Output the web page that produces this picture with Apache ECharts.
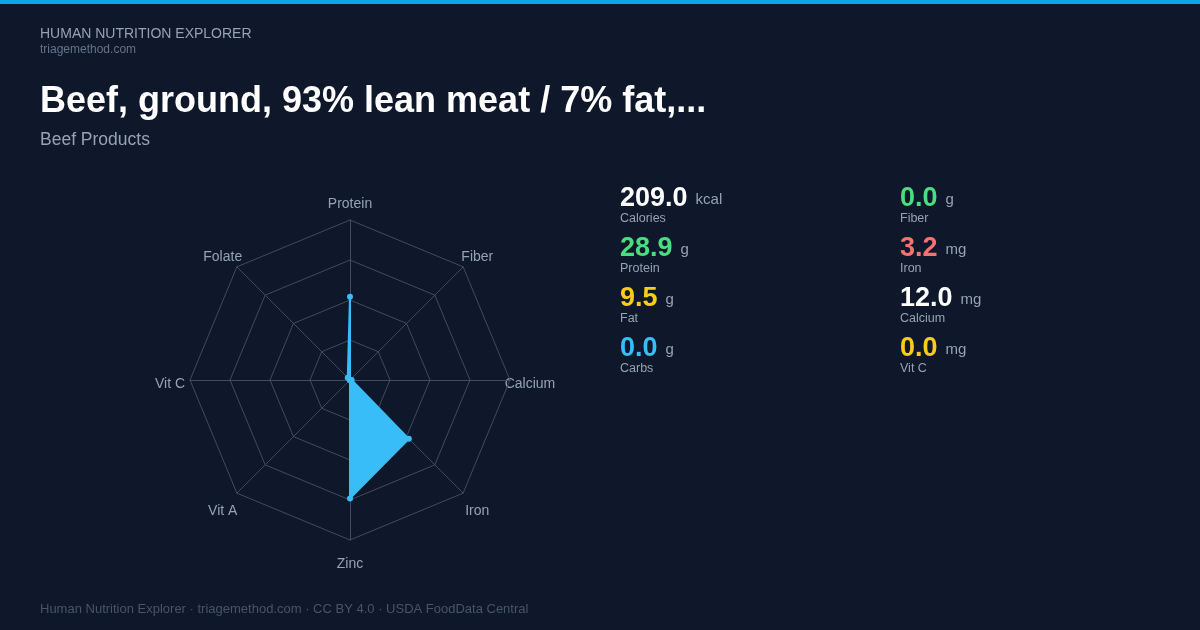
<!DOCTYPE html>
<html>
<head>
<meta charset="utf-8">
<script src="https://cdn.jsdelivr.net/npm/echarts@6/dist/echarts.min.js"></script>
<style>
  html, body { margin: 0; padding: 0; background: #0f172a; }
  #chart { width: 1200px; height: 630px; }
</style>
</head>
<body>
<div id="chart"></div>
<script>
// radar axes, clockwise from the top
const nutrients = ['Protein', 'Fiber', 'Calcium', 'Iron', 'Zinc', 'Vit A', 'Vit C', 'Folate']
// share of daily value, %
const dailyPct = [52, 0, 1, 52, 74, 0, 0, 2]
const axisMax = 100

// stat panel
const statNames = ['Calories', 'Protein', 'Fat', 'Carbs', 'Fiber', 'Iron', 'Calcium', 'Vit C']
const statValues = ['209.0', '28.9', '9.5', '0.0', '0.0', '3.2', '12.0', '0.0']
const statUnits = ['kcal', 'g', 'g', 'g', 'g', 'mg', 'mg', 'mg']

const statColors = ['#ffffff', '#4ade80', '#facc15', '#38bdf8', '#4ade80', '#f87171', '#ffffff', '#facc15']
const font = '"Liberation Sans", Arial, Helvetica, sans-serif'
const cx = 350, cy = 380, radius = 160

const ctx = document.createElement('canvas').getContext('2d')
const measure = (txt, f) => { ctx.font = f; return ctx.measureText(txt).width }

// ECharts lays radar indicators out counter-clockwise, so flip the order after the first
const order = [0].concat(nutrients.map((_, i) => i).slice(1).reverse())

const graphics = [
  { type: 'rect', shape: { x: 0, y: 0, width: 1200, height: 4 }, style: { fill: '#0ea5e9' } },
  { type: 'text', x: 40, y: 34, style: { text: 'HUMAN NUTRITION EXPLORER', font: '14px ' + font, fill: '#94a3b8', verticalAlign: 'middle' } },
  { type: 'text', x: 40, y: 49.5, style: { text: 'triagemethod.com', font: '12px ' + font, fill: '#64748b', verticalAlign: 'middle' } },
  { type: 'text', x: 40, y: 102, style: { text: 'Beef, ground, 93% lean meat / 7% fat,...', font: 'bold 36px ' + font, fill: '#ffffff', verticalAlign: 'middle' } },
  { type: 'text', x: 40, y: 140.5, style: { text: 'Beef Products', font: '17.5px ' + font, fill: '#94a3b8', verticalAlign: 'middle' } },
  { type: 'text', x: 40, y: 609, style: { text: 'Human Nutrition Explorer · triagemethod.com · CC BY 4.0 · USDA FoodData Central', font: '13px ' + font, fill: '#475569', verticalAlign: 'middle' } }
]

// radar axis names, centred just outside each spoke
nutrients.forEach((name, i) => {
  const a = Math.PI / 2 - i * Math.PI / 4
  const r = radius + 20
  graphics.push({
    type: 'text',
    x: cx + r * Math.cos(a),
    y: cy - r * Math.sin(a) + 4,
    style: { text: name, font: '14px ' + font, fill: '#94a3b8', align: 'center', verticalAlign: 'middle' }
  })
})

statNames.forEach((name, i) => {
  const x = i < 4 ? 620 : 900
  const base = 205.7 + (i % 4) * 50
  const vFont = 'bold 27px ' + font
  const w = measure(statValues[i], vFont)
  graphics.push(
    { type: 'text', x: x, y: base - 7.5, style: { text: statValues[i], font: vFont, fill: statColors[i], verticalAlign: 'middle' } },
    { type: 'text', x: x + w + 8, y: base - 6, style: { text: statUnits[i], font: '15px ' + font, fill: '#94a3b8', verticalAlign: 'middle' } },
    { type: 'text', x: x, y: base + 13, style: { text: name, font: '12.5px ' + font, fill: '#94a3b8', verticalAlign: 'middle' } }
  )
})

const chart = echarts.init(document.getElementById('chart'), null, { renderer: 'canvas' })
chart.setOption({
  backgroundColor: '#0f172a',
  animation: false,
  radar: {
    center: [cx, cy],
    radius: radius,
    startAngle: 90,
    shape: 'polygon',
    splitNumber: 4,
    indicator: order.map(i => ({ name: nutrients[i], max: axisMax, min: 0 })),
    axisName: { show: false },
    splitLine: { lineStyle: { color: '#414c5e', width: 1 } },
    axisLine: { lineStyle: { color: '#414c5e', width: 1 } },
    splitArea: { show: false }
  },
  series: [{
    type: 'radar',
    symbol: 'circle',
    symbolSize: 6,
    lineStyle: { color: '#38bdf8', width: 2 },
    itemStyle: { color: '#38bdf8' },
    areaStyle: { color: '#38bdf8', opacity: 1 },
    data: [{ value: order.map(i => dailyPct[i]), name: 'Daily value' }]
  }],
  graphic: graphics
})
</script>
</body>
</html>
